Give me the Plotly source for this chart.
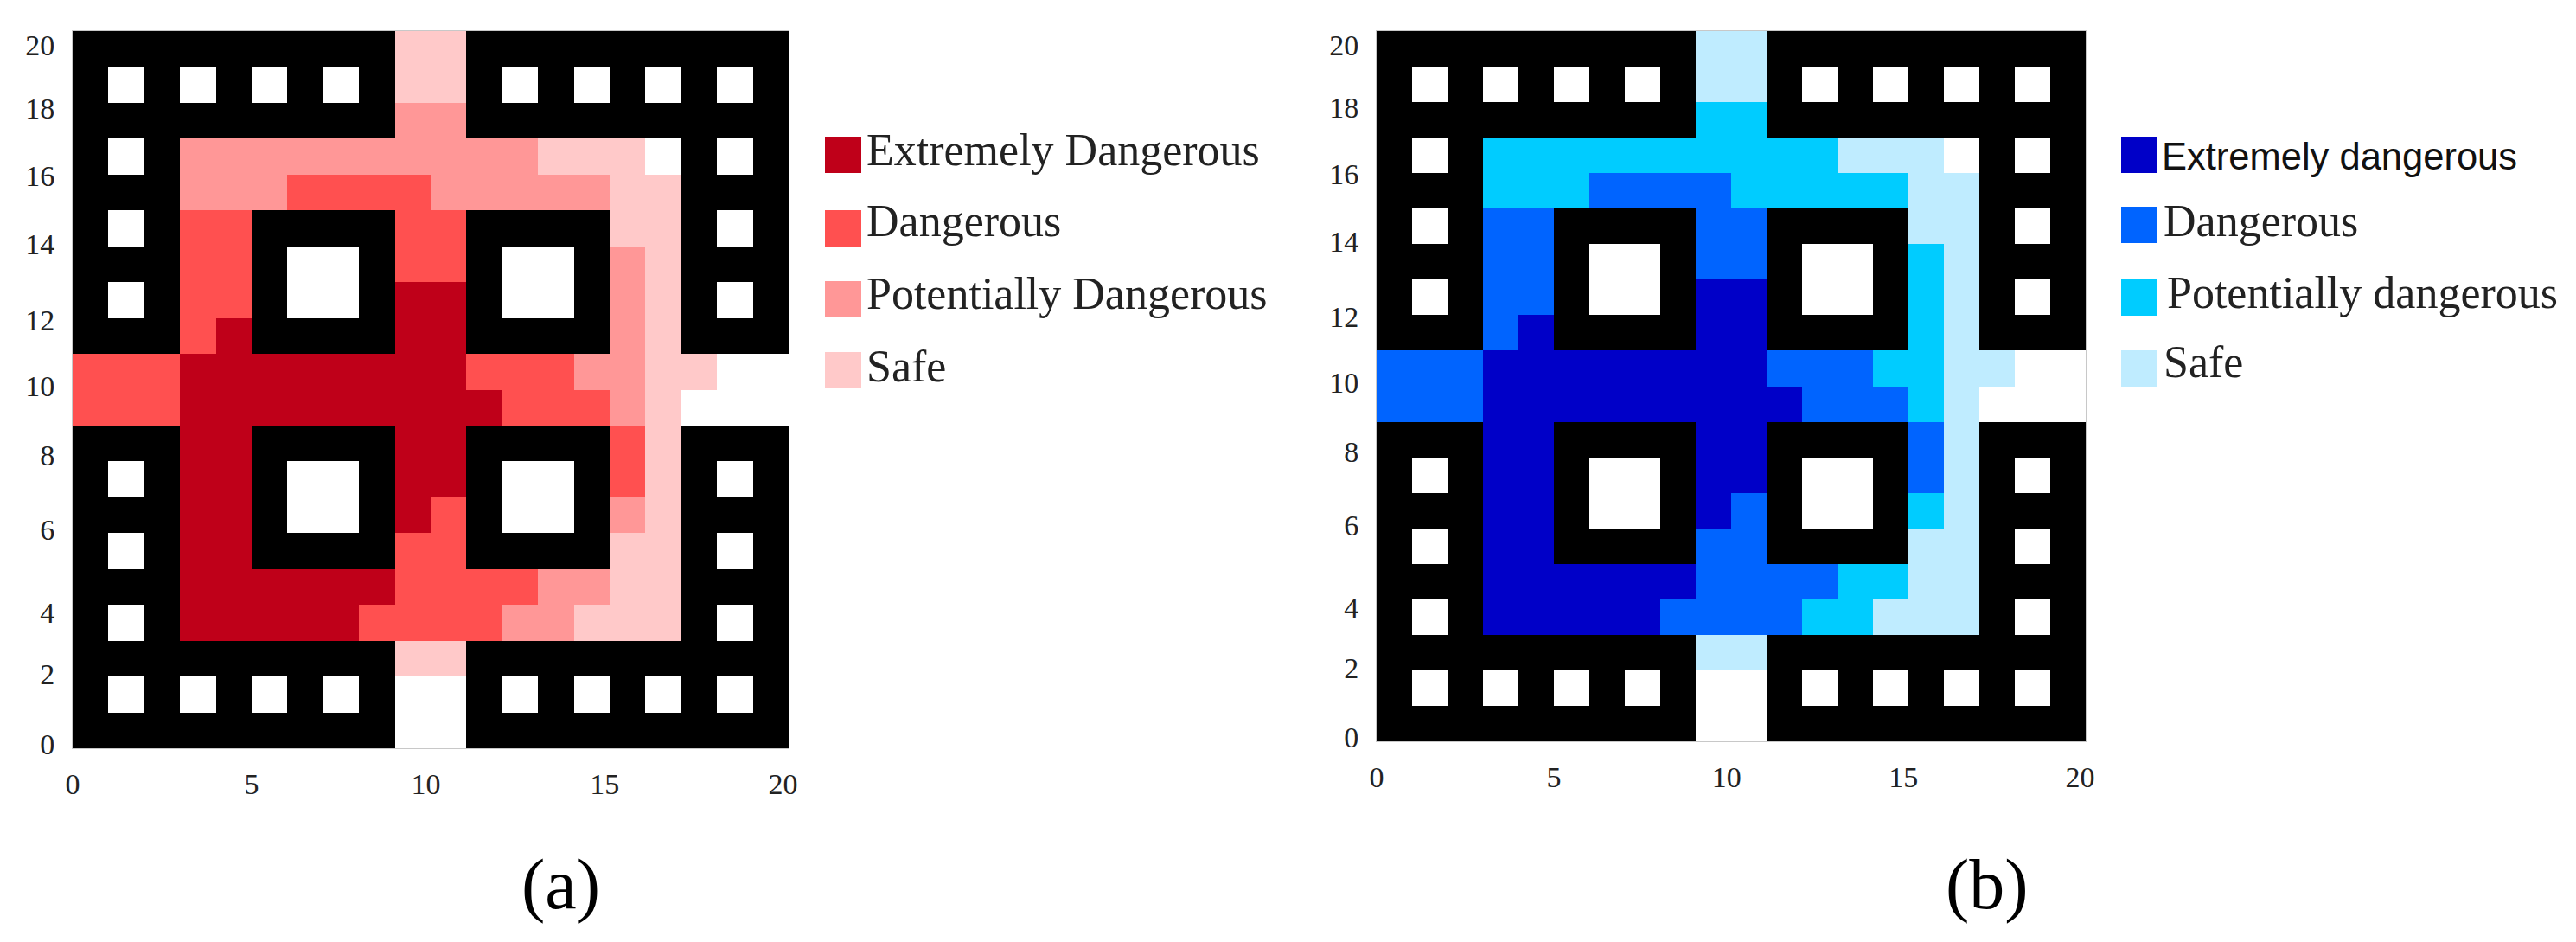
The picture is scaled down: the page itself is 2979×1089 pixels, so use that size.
"""
Evacuation danger maps on a 20 x 20 floor grid, red version (a) and blue version (b).
"""

import plotly.graph_objects as go

WIDTH = 2979
HEIGHT = 1089
SERIF = "Liberation Serif, Times New Roman, serif"
SANS = "Liberation Sans, Arial, sans-serif"

# cell codes: 0 free, 1 wall, 2 safe, 3 potentially dangerous, 4 dangerous, 5 extremely dangerous
# rows listed top to bottom
GRID = [
    [1, 1, 1, 1, 1, 1, 1, 1, 1, 2, 2, 1, 1, 1, 1, 1, 1, 1, 1, 1],
    [1, 0, 1, 0, 1, 0, 1, 0, 1, 2, 2, 1, 0, 1, 0, 1, 0, 1, 0, 1],
    [1, 1, 1, 1, 1, 1, 1, 1, 1, 3, 3, 1, 1, 1, 1, 1, 1, 1, 1, 1],
    [1, 0, 1, 3, 3, 3, 3, 3, 3, 3, 3, 3, 3, 2, 2, 2, 0, 1, 0, 1],
    [1, 1, 1, 3, 3, 3, 4, 4, 4, 4, 3, 3, 3, 3, 3, 2, 2, 1, 1, 1],
    [1, 0, 1, 4, 4, 1, 1, 1, 1, 4, 4, 1, 1, 1, 1, 2, 2, 1, 0, 1],
    [1, 1, 1, 4, 4, 1, 0, 0, 1, 4, 4, 1, 0, 0, 1, 3, 2, 1, 1, 1],
    [1, 0, 1, 4, 4, 1, 0, 0, 1, 5, 5, 1, 0, 0, 1, 3, 2, 1, 0, 1],
    [1, 1, 1, 4, 5, 1, 1, 1, 1, 5, 5, 1, 1, 1, 1, 3, 2, 1, 1, 1],
    [4, 4, 4, 5, 5, 5, 5, 5, 5, 5, 5, 4, 4, 4, 3, 3, 2, 2, 0, 0],
    [4, 4, 4, 5, 5, 5, 5, 5, 5, 5, 5, 5, 4, 4, 4, 3, 2, 0, 0, 0],
    [1, 1, 1, 5, 5, 1, 1, 1, 1, 5, 5, 1, 1, 1, 1, 4, 2, 1, 1, 1],
    [1, 0, 1, 5, 5, 1, 0, 0, 1, 5, 5, 1, 0, 0, 1, 4, 2, 1, 0, 1],
    [1, 1, 1, 5, 5, 1, 0, 0, 1, 5, 4, 1, 0, 0, 1, 3, 2, 1, 1, 1],
    [1, 0, 1, 5, 5, 1, 1, 1, 1, 4, 4, 1, 1, 1, 1, 2, 2, 1, 0, 1],
    [1, 1, 1, 5, 5, 5, 5, 5, 5, 4, 4, 4, 4, 3, 3, 2, 2, 1, 1, 1],
    [1, 0, 1, 5, 5, 5, 5, 5, 4, 4, 4, 4, 3, 3, 2, 2, 2, 1, 0, 1],
    [1, 1, 1, 1, 1, 1, 1, 1, 1, 2, 2, 1, 1, 1, 1, 1, 1, 1, 1, 1],
    [1, 0, 1, 0, 1, 0, 1, 0, 1, 0, 0, 1, 0, 1, 0, 1, 0, 1, 0, 1],
    [1, 1, 1, 1, 1, 1, 1, 1, 1, 0, 0, 1, 1, 1, 1, 1, 1, 1, 1, 1],
]
CELL_EDGES = list(range(21))

X_TICK_LABELS = ["0", "5", "10", "15", "20"]
X_TICK_VALUES = [0, 5, 9.87, 14.86, 19.84]
Y_TICK_LABELS = ["0", "2", "4", "6", "8", "10", "12", "14", "16", "18", "20"]
Y_TICK_VALUES = [0.12, 2.08, 3.78, 6.1, 8.17, 10.1, 11.95, 14.07, 15.97, 17.85, 19.6]

RED_COLORS = ["#FFFFFF", "#000000", "#FFC9C9", "#FF9797", "#FF5050", "#BF0019"]
BLUE_COLORS = ["#FFFFFF", "#000000", "#BFECFF", "#00CCFF", "#0064FF", "#0000C8"]

RED_LABELS = ["Extremely Dangerous", "Dangerous", "Potentially Dangerous", "Safe"]
BLUE_LABELS = ["Extremely dangerous", "Dangerous", "Potentially dangerous", "Safe"]


def px_x(x):
    return x / WIDTH


def px_y(y):
    return 1 - y / HEIGHT


def step_scale(colors):
    scale = []
    n = len(colors)
    for i, c in enumerate(colors):
        scale.append([i / n, c])
        scale.append([(i + 1) / n, c])
    return scale


def add_map(fig, colors, xname, yname):
    fig.add_trace(go.Heatmap(
        x=CELL_EDGES, y=CELL_EDGES, z=GRID[::-1],
        zmin=0, zmax=len(colors),
        colorscale=step_scale(colors),
        showscale=False,
        xaxis=xname, yaxis=yname,
        hovertemplate="x %{x}, y %{y}<extra></extra>",
    ))


def axis_style(**kwargs):
    return dict(
        showgrid=False, zeroline=False,
        showline=True, mirror=True, linecolor="#C8C8C8", linewidth=1,
        ticks="outside", tickcolor="rgba(0,0,0,0)",
        tickfont=dict(family=SERIF, size=34, color="#222222"),
        tickmode="array",
        range=[0, 20],
        automargin=False,
        **kwargs,
    )


def add_legend(fig, labels, colors, box_x0, box_x1, box_tops, box_size, text_xs, text_ys, fonts):
    # swatches are ordered strongest first, colours are stored weakest first
    for label, color, top, text_x, text_y, font in zip(
            labels, colors[:1:-1], box_tops, text_xs, text_ys, fonts):
        fig.add_shape(
            type="rect", xref="paper", yref="paper",
            x0=px_x(box_x0), x1=px_x(box_x1),
            y0=px_y(top), y1=px_y(top + box_size),
            fillcolor=color, line_width=0,
        )
        fig.add_annotation(
            text=label, xref="paper", yref="paper",
            x=px_x(text_x), y=px_y(text_y),
            xanchor="left", yanchor="middle", showarrow=False,
            font=font,
        )


fig = go.Figure()
add_map(fig, RED_COLORS, "x", "y")
add_map(fig, BLUE_COLORS, "x2", "y2")

serif_font = dict(family=SERIF, size=52, color="#222222")
blue_first = dict(family=SANS, size=43.5, color="#111111")
add_legend(fig, RED_LABELS, RED_COLORS, 954, 996, [158, 243, 325, 407], 42,
           [1000, 1000, 1000, 1000], [173, 256, 340, 423], [serif_font] * 4)
add_legend(fig, BLUE_LABELS, BLUE_COLORS, 2453, 2494, [158, 239, 323, 405], 42,
           [2498, 2500, 2504, 2500], [181, 255, 338, 418],
           [blue_first, serif_font, serif_font, serif_font])

for caption, x in [("(a)", 648), ("(b)", 2298)]:
    fig.add_annotation(
        text=caption, xref="paper", yref="paper",
        x=px_x(x), y=px_y(1022), xanchor="center", yanchor="middle", showarrow=False,
        font=dict(family=SERIF, size=82, color="#000000"),
    )

fig.update_layout(
    width=WIDTH, height=HEIGHT, autosize=False,
    paper_bgcolor="#FFFFFF", plot_bgcolor="#FFFFFF",
    margin=dict(l=0, r=0, t=0, b=0, autoexpand=False),
    showlegend=False,
    xaxis=axis_style(domain=[px_x(84), px_x(912)], anchor="y", ticklen=11,
                     tickvals=X_TICK_VALUES, ticktext=X_TICK_LABELS),
    yaxis=axis_style(domain=[px_y(865), px_y(36)], anchor="x", ticklen=13,
                     tickvals=Y_TICK_VALUES, ticktext=Y_TICK_LABELS),
    xaxis2=axis_style(domain=[px_x(1592), px_x(2412)], anchor="y2", ticklen=11,
                      tickvals=X_TICK_VALUES, ticktext=X_TICK_LABELS),
    yaxis2=axis_style(domain=[px_y(857), px_y(36)], anchor="x2", ticklen=13,
                      tickvals=Y_TICK_VALUES, ticktext=Y_TICK_LABELS),
)

fig.write_html("out.html", config=dict(displayModeBar=False),
               post_script="document.body.style.margin='0';")
